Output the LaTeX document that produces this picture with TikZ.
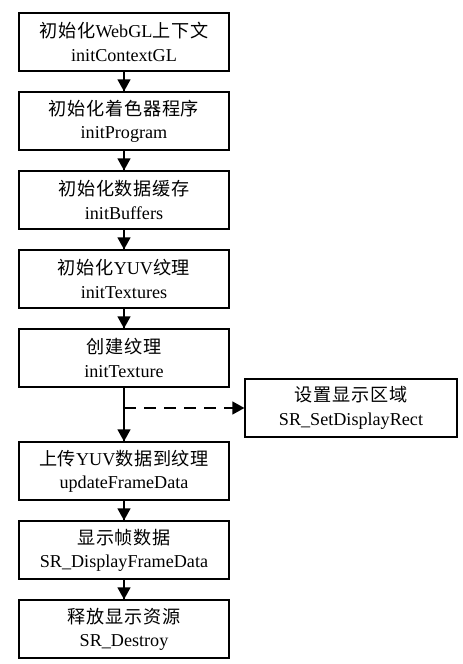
\documentclass[tikz,border=0pt]{standalone}
\usepackage{fontspec}
\setmainfont{Liberation Serif}
\newfontfamily\cjk[LetterSpace=4]{Noto Sans CJK SC}
\usetikzlibrary{arrows.meta}
\usetikzlibrary{decorations.markings}
\tikzset{flow/.style = {line width=1.5pt, decoration={markings,
                                  mark=at position 1 with {\arrow{Triangle[width=9.5pt,length=9pt]}}},
                      postaction={decorate}}}
\tikzset{blk/.style = {draw, line width=0.8pt, minimum width=157.5pt, minimum height=43.5pt,
                       align=center, inner sep=0, font=\fontsize{13.6}{17.5}\selectfont}}

\begin{document}
\begin{tikzpicture}[x=0.75pt, y=-0.75pt]
      \useasboundingbox (0, 0) rectangle (462, 664);

      \node [blk] (ctx)  at (124, 42)  {{\cjk 初始化}WebGL{\cjk 上下文}\\initContextGL};
      \node [blk] (prog) at (124, 121) {{\cjk 初始化着色器程序}\\initProgram};
      \node [blk] (buf)  at (124, 200) {{\cjk 初始化数据缓存}\\initBuffers};
      \node [blk] (texs) at (124, 279) {{\cjk 初始化}YUV{\cjk 纹理}\\initTextures};
      \node [blk] (tex)  at (124, 358) {{\cjk 创建纹理}\\initTexture};
      \node [blk] (upd)  at (124, 471) {{\cjk 上传}YUV{\cjk 数据到纹理}\\updateFrameData};
      \node [blk] (disp) at (124, 550) {{\cjk 显示帧数据}\\SR\_DisplayFrameData};
      \node [blk] (dest) at (124, 629) {{\cjk 释放显示资源}\\SR\_Destroy};
      \node [blk, minimum width=159pt] (rect) at (351, 408) {{\cjk 设置显示区域}\\SR\_SetDisplayRect};

      \coordinate (fork) at (124, 408);

      \draw [flow] (ctx) -- (prog);
      \draw [flow] (prog) -- (buf);
      \draw [flow] (buf) -- (texs);
      \draw [flow] (texs) -- (tex);
      \draw [flow] (tex) -- (upd);
      \draw [flow] (upd) -- (disp);
      \draw [flow] (disp) -- (dest);

      \draw [flow, dash pattern=on 9pt off 6pt] (fork) -- (rect);
    \end{tikzpicture}
\end{document}
